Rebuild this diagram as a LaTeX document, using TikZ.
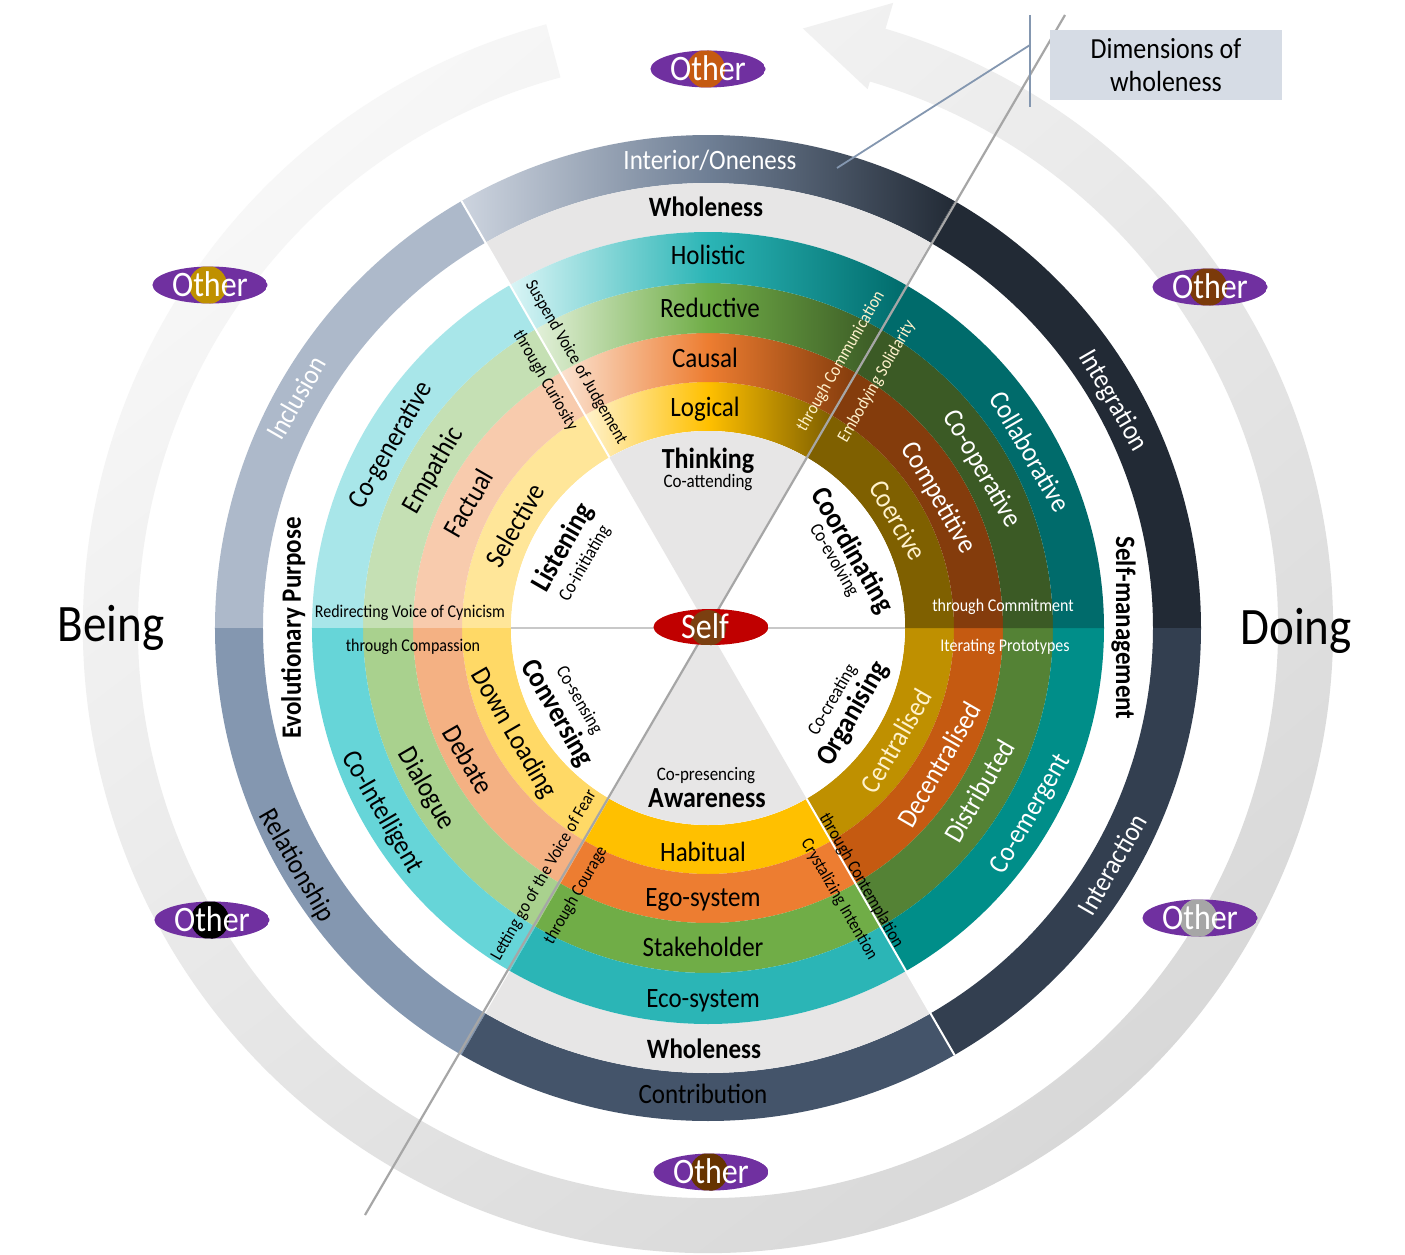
\documentclass[tikz,border=0pt]{standalone}
\usepackage{fontspec}
\setmainfont{Carlito}
\usetikzlibrary{shapes.geometric,shadings}
\definecolor{ulA}{HTML}{FFE699}\definecolor{ulB}{HTML}{F8CBAD}\definecolor{ulC}{HTML}{C5E0B4}\definecolor{ulD}{HTML}{A8E6E9}
\definecolor{llA}{HTML}{FFD966}\definecolor{llB}{HTML}{F4B183}\definecolor{llC}{HTML}{A9D18E}\definecolor{llD}{HTML}{66D5D8}
\definecolor{bA}{HTML}{FFC000}\definecolor{bB}{HTML}{ED7D31}\definecolor{bC}{HTML}{70AD47}\definecolor{bD}{HTML}{2BB5B6}
\definecolor{lrA}{HTML}{BF9000}\definecolor{lrB}{HTML}{C55A11}\definecolor{lrC}{HTML}{548235}\definecolor{lrD}{HTML}{008E89}
\definecolor{urA}{HTML}{7F6000}\definecolor{urB}{HTML}{843C0C}\definecolor{urC}{HTML}{3B5A25}\definecolor{urD}{HTML}{006B6B}
\definecolor{tAL}{HTML}{FFF2CC}\definecolor{tBL}{HTML}{FBE2D0}\definecolor{tCL}{HTML}{E2F0D9}\definecolor{tDL}{HTML}{DAF5F6}
\definecolor{dkInt}{HTML}{222A35}\definecolor{dkInc}{HTML}{ADB9CA}\definecolor{dkRel}{HTML}{8497B0}
\definecolor{dkCon}{HTML}{44546A}\definecolor{dkItr}{HTML}{333F50}
\definecolor{ioL}{HTML}{CDD4DF}\definecolor{ioM}{HTML}{6F7F95}
\definecolor{lgrey}{HTML}{E7E6E6}\definecolor{pieline}{HTML}{C8C8C8}\definecolor{diagline}{HTML}{A6A6A6}
\definecolor{calloutc}{HTML}{8497B0}\definecolor{dimbox}{HTML}{D6DCE5}
\definecolor{otherpurple}{HTML}{7030A0}\definecolor{selfred}{HTML}{C00000}\definecolor{selfbrown}{HTML}{7B3F10}
\definecolor{oTop}{HTML}{C55A11}\definecolor{oUL}{HTML}{BF9000}\definecolor{oUR}{HTML}{7B3A0A}
\definecolor{oLL}{HTML}{000000}\definecolor{oLR}{HTML}{A6A6A6}\definecolor{oB}{HTML}{663300}
\definecolor{cream}{HTML}{FFF2CC}
\definecolor{arUL}{HTML}{FFFFFF}\definecolor{arUR}{HTML}{E8E8E8}\definecolor{arLL}{HTML}{E4E4E4}\definecolor{arLR}{HTML}{D0D0D0}
\newcommand{\annsec}[5]{\path[#1] (#2:#4) -- (#2:#5) arc[start angle=#2,end angle=#3,radius=#5] -- (#3:#4) arc[start angle=#3,end angle=#2,radius=#4] -- cycle;}
\newcommand{\othr}[4]{%
  \begin{scope}
    \clip (#2,#3) ellipse [x radius=57.5, y radius=18.5];
    \fill[otherpurple] (#2,#3) ellipse [x radius=57.5, y radius=18.5];
    \fill[#4] (#2-2,#3) circle (19);
  \end{scope}
  \node[oth,ys] (#1) at (#2,#3) {Other};}
\begin{document}
\begin{tikzpicture}[x=1pt,y=1pt,
  lb/.style={inner sep=0pt,text height=#1,text depth=0pt},
  ys/.style={yscale=1.12},
  rg/.style={lb=16pt,font=\fontsize{25}{30}\selectfont},
  dk/.style={lb=16pt,font=\fontsize{25}{30}\selectfont},
  bb/.style={lb=16pt,font=\fontsize{25}{30}\selectfont\bfseries},
  pb/.style={lb=16.6pt,font=\fontsize{26}{31}\selectfont\bfseries},
  ps/.style={lb=10.9pt,font=\fontsize{17}{20}\selectfont},
  sm/.style={lb=10.2pt,font=\fontsize{16}{19}\selectfont},
  big/.style={lb=30pt,font=\fontsize{47}{56}\selectfont},
  oth/.style={lb=20.5pt,font=\fontsize{32}{38}\selectfont,text=white},
  dim/.style={lb=16.6pt,font=\fontsize{26}{31}\selectfont},
  callout/.style={draw=calloutc,line width=1.8},
  sep/.style={draw=white,line width=2}]
\useasboundingbox (-708,-626) rectangle (697,628);
\fill[white] (-708,-626) rectangle (697,628);
% grey circular arrow
\shade[upper left=arUL,upper right=arUR,lower left=arLL,lower right=arLR]
  (105:625) arc[start angle=105,end angle=433.5,radius=625] -- (433.5:652) -- (441:607) -- (433.5:562) -- (433.5:570)
  arc[start angle=433.5,end angle=105,radius=570] -- cycle;
% dark outer ring
\annsec{fill=dkInt}{0}{60}{445}{493}
\annsec{shade,left color=ioL,right color=dkInt,middle color=ioM}{60}{120}{445}{493}
\annsec{fill=dkInc}{120}{180}{445}{493}
\annsec{fill=dkRel}{180}{240}{445}{493}
\annsec{fill=dkCon}{240}{300}{445}{493}
\annsec{fill=dkItr}{300}{360}{445}{493}
% wholeness bands
\annsec{fill=lgrey}{60}{120}{396}{445}
\annsec{fill=lgrey}{240}{300}{396}{445}
% coloured rings
\foreach \sa/\sb/\ca/\cb/\cc/\cd in {120/180/ulA/ulB/ulC/ulD,180/240/llA/llB/llC/llD,240/300/bA/bB/bC/bD,300/360/lrA/lrB/lrC/lrD,0/60/urA/urB/urC/urD}{
  \annsec{fill=\ca}{\sa}{\sb}{197}{246}
  \annsec{fill=\cb}{\sa}{\sb}{246}{295}
  \annsec{fill=\cc}{\sa}{\sb}{295}{345}
  \annsec{fill=\cd}{\sa}{\sb}{345}{396}
}
\annsec{shade,left color=tAL,right color=urA,middle color=bA}{60}{120}{197}{246}
\annsec{shade,left color=tBL,right color=urB,middle color=bB}{60}{120}{246}{295}
\annsec{shade,left color=tCL,right color=urC,middle color=bC}{60}{120}{295}{345}
\annsec{shade,left color=tDL,right color=urD,middle color=bD}{60}{120}{345}{396}
% inner pie
\fill[white] (0,0) circle (197);
\fill[lgrey] (0,0) -- (60:197) arc[start angle=60,end angle=120,radius=197] -- cycle;
\fill[lgrey] (0,0) -- (240:197) arc[start angle=240,end angle=300,radius=197] -- cycle;
% separators
\coordinate (s1a) at (120:197); \coordinate (s1b) at (120:493);
\coordinate (s2a) at (300:197); \coordinate (s2b) at (300:493);
\draw[sep] (s1a) -- (s1b);
\draw[sep] (s2a) -- (s2b);
\coordinate (hl) at (180:197); \coordinate (hr) at (0:197);
\draw[draw=pieline,line width=1.5] (hl) -- (hr);
% long diagonal line
\coordinate (dgA) at (-343,-587); \coordinate (dgB) at (357,613);
\draw[draw=diagline,line width=2.2] (dgA) -- (dgB);
% callout
\coordinate (cvT) at (322,613); \coordinate (cvB) at (322,521);
\coordinate (csA) at (322,583); \coordinate (csB) at (129,460);
\draw[callout] (cvT) -- (cvB);
\draw[callout] (csA) -- (csB);
\node[fill=dimbox,minimum width=232,minimum height=70,inner sep=0pt] (dimb) at (458,563) {};
\node[dim,ys] (dim1) at (458,579) {Dimensions of};
\node[dim,ys] (dim2) at (458,546) {wholeness};
% top sector texts
\node[dk,text=white,ys] (tIO) at (2,467) {Interior/Oneness};
\node[bb,ys] (tWh) at (-2,420) {Wholeness};
\node[rg,ys] (tHo) at (0,372) {Holistic};
\node[rg,ys] (tRe) at (2,319) {Reductive};
\node[rg,ys] (tCa) at (-3,269) {Causal};
\node[rg,ys] (tLo) at (-3,220) {Logical};
\node[pb,ys] (tTh) at (0,169) {Thinking};
\node[ps,ys] (tCo) at (0,147) {Co-attending};
% bottom sector texts
\node[ps,ys] (bCp) at (-2,-146) {Co-presencing};
\node[pb,ys] (bAw) at (-1,-170) {Awareness};
\node[rg,ys] (bHa) at (-5,-225) {Habitual};
\node[rg,ys] (bEg) at (-5,-270) {Ego-system};
\node[rg,ys] (bSt) at (-5,-320) {Stakeholder};
\node[rg,ys] (bEc) at (-5,-371) {Eco-system};
\node[bb,ys] (bWh) at (-4,-422) {Wholeness};
\node[dk,ys] (bCn) at (-5,-467) {Contribution};
% upper left
\node[dk,text=white,rotate=60,ys] (ulIn) at (150.8:471) {Inclusion};
\node[rg,rotate=60,ys] (ulCg) at (150:367) {Co-generative};
\node[rg,rotate=60,ys] (ulEm) at (150.2:318) {Empathic};
\node[rg,rotate=60,ys] (ulFa) at (152.5:270) {Factual};
\node[rg,rotate=60,ys] (ulSe) at (152:218) {Selective};
\node[pb,rotate=60,ys] (ulLi) at (151:167) {Listening};
\node[ps,rotate=60,ys] (ulCi) at (152.3:140) {Co-initiating};
% upper right
\node[dk,text=white,rotate=-60,ys] (urIn) at (29.3:466) {Integration};
\node[rg,text=white,rotate=-60,ys] (urCl) at (28.7:367) {Collaborative};
\node[rg,text=white,rotate=-60,ys] (urCo) at (30.2:318) {Co-operative};
\node[rg,text=white,rotate=-60,ys] (urCm) at (29.5:266) {Competitive};
\node[rg,text=cream,rotate=-60,ys] (urCe) at (29.6:218) {Coercive};
\node[pb,rotate=-60,ys] (urCd) at (28.3:165) {Coordinating};
\node[ps,rotate=-60,ys] (urCv) at (28.2:144) {Co-evolving};
% lower left
\node[dk,rotate=-60,ys] (llRe) at (210:474) {Relationship};
\node[rg,rotate=-60,ys] (llCi) at (209.5:373) {Co-Intelligent};
\node[rg,rotate=-60,ys] (llDi) at (209.7:323) {Dialogue};
\node[rg,rotate=-60,ys] (llDe) at (208.8:274) {Debate};
\node[rg,rotate=-60,ys] (llDl) at (208.5:220) {Down Loading};
\node[pb,rotate=-60,ys] (llCv) at (209.5:172) {Conversing};
\node[ps,rotate=-60,ys] (llCs) at (209.4:147) {Co-sensing};
% lower right
\node[dk,text=white,rotate=60,ys] (lrIa) at (329.7:469) {Interaction};
\node[rg,text=white,rotate=60,ys] (lrCe) at (330:371) {Co-emergent};
\node[rg,text=white,rotate=60,ys] (lrDi) at (329:317) {Distributed};
\node[rg,text=white,rotate=60,ys] (lrDc) at (329.4:269) {Decentralised};
\node[rg,text=cream,rotate=60,ys] (lrCn) at (329:220) {Centralised};
\node[pb,rotate=60,ys] (lrOr) at (329.4:167) {Organising};
\node[ps,rotate=60,ys] (lrCc) at (330:143) {Co-creating};
% side bands
\node[bb,rotate=90,ys] (lEP) at (-416,0) {Evolutionary Purpose};
\node[bb,rotate=-90,ys] (rSM) at (417,0) {Self-management};
% small horizontal texts
\node[sm,ys] (sRd) at (-298,16) {Redirecting Voice of Cynicism};
\node[sm,ys] (sCp) at (-295,-18) {through Compassion};
\node[sm,text=white,ys] (sCm) at (295,22) {through Commitment};
\node[sm,text=white,ys] (sIt) at (297,-18) {Iterating Prototypes};
% small diagonal texts
\node[sm,rotate=-60,ys] (sSu) at (-131,266) {Suspend Voice of Judgement};
\node[sm,rotate=-60,ys] (sCu) at (-162,248) {through Curiosity};
\node[sm,text=cream,rotate=60,ys] (sCo) at (132,267) {through Communication};
\node[sm,text=cream,rotate=60,ys] (sEm) at (168,247) {Embodying Solidarity};
\node[sm,rotate=60,ys] (sLe) at (-165,-247) {Letting go of the Voice of Fear};
\node[sm,rotate=60,ys] (sCr) at (-133,-267) {through Courage};
\node[sm,rotate=-60,ys] (sCy) at (132,-271) {Crystalizing Intention};
\node[sm,rotate=-60,ys] (sTc) at (154,-252) {through Contemplation};
% being / doing
\node[big,ys] (being) at (-597,3) {Being};
\node[big,ys] (doing) at (588,0) {Doing};
% others
\othr{oT}{0}{559}{oTop}
\othr{oUL}{-498}{343}{oUL}
\othr{oUR}{502}{341}{oUR}
\othr{oLL}{-496}{-292}{oLL}
\othr{oLR}{492}{-290}{oLR}
\othr{oBo}{3}{-544}{oB}
% self
\begin{scope}
  \clip (3,1) ellipse [x radius=57.5, y radius=18];
  \fill[selfred] (3,1) ellipse [x radius=57.5, y radius=18];
  \fill[selfbrown] (0,0) circle (18);
\end{scope}
\node[oth,ys] (self) at (-3,1) {Self};
\end{tikzpicture}
\end{document}
